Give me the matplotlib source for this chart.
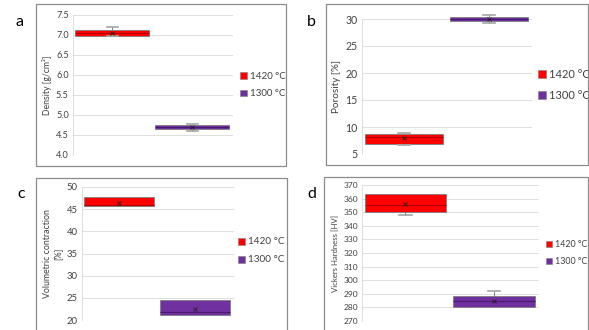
import matplotlib
matplotlib.use("Agg")
import matplotlib.pyplot as plt
from matplotlib.patches import Patch, Rectangle

plt.rcParams['font.family'] = ['Lato', 'DejaVu Sans']

# series names and colours
series = ['1420 °C', '1300 °C']
colors = ['#ff0000', '#7030a0']
median_colors = ['#b00000', '#4a1a70']

# box statistics per panel: [whislo, q1, med, q3, whishi, mean] for 1420 and 1300
density_1420 = [6.97, 6.98, 7.05, 7.12, 7.19, 7.06]
density_1300 = [4.59, 4.65, 4.70, 4.74, 4.78, 4.69]
porosity_1420 = [6.67, 6.85, 8.15, 8.76, 8.85, 7.9]
porosity_1300 = [29.26, 29.63, 30.0, 30.37, 30.67, 30.0]
contraction_1420 = [45.8, 45.8, 45.9, 47.7, 47.7, 46.5]
contraction_1300 = [21.1, 21.1, 21.8, 24.6, 24.6, 22.5]
hardness_1420 = [348.2, 349.9, 355.5, 363.4, 363.4, 356.0]
hardness_1300 = [280.1, 280.1, 284.6, 288.4, 292.3, 284.8]

panels = [
    dict(letter='a', data=[density_1420, density_1300], ylabel='Density [g/cm³]',
         ylim=(4.0, 7.5), ticks=[4.0, 4.5, 5.0, 5.5, 6.0, 6.5, 7.0, 7.5], fmt='{:.1f}',
         ax=(73, 15, 233, 155), frame=(36, 4, 286, 166), letter_pos=(15, 22),
         leg=(240, 85), fs=6.6, lfs=6.2),
    dict(letter='b', data=[porosity_1420, porosity_1300], ylabel='Porosity [%]',
         ylim=(5, 30), ticks=[5, 10, 15, 20, 25, 30], fmt='{:.0f}',
         ax=(362, 19, 532, 154), frame=(326, 4, 588, 165), letter_pos=(307, 22),
         leg=(538, 85), fs=7.6, lfs=7.2),
    dict(letter='c', data=[contraction_1420, contraction_1300],
         ylabel='Volumetric contraction\n[%]',
         ylim=(20, 50), ticks=[20, 25, 30, 35, 40, 45, 50], fmt='{:.0f}',
         ax=(82, 187, 234, 320), frame=(36, 178, 287, 332), letter_pos=(17, 194),
         leg=(238, 251), fs=6.8, lfs=6.3),
    dict(letter='d', data=[hardness_1420, hardness_1300], ylabel='Vickers Hardness [HV]',
         ylim=(270, 370), ticks=list(range(270, 371, 10)), fmt='{:.0f}',
         ax=(362, 185, 539, 321), frame=(324, 177, 588, 332), letter_pos=(307, 194),
         leg=(546, 253), fs=6.0, lfs=5.6),
]

W, H = 589, 330
fig = plt.figure(figsize=(W / 100, H / 100), dpi=100)

for p in panels:
    x0, y0, x1, y1 = p['ax']
    ax = fig.add_axes([x0 / W, 1 - y1 / H, (x1 - x0) / W, (y1 - y0) / H])

    # panel frame
    fx0, fy0, fx1, fy1 = p['frame']
    fig.patches.append(Rectangle((fx0 / W, 1 - fy1 / H), (fx1 - fx0) / W, (fy1 - fy0) / H,
                                 transform=fig.transFigure, fill=False,
                                 edgecolor='#8c8c8c', lw=0.9))
    fig.text(p['letter_pos'][0] / W, 1 - p['letter_pos'][1] / H, p['letter'],
             fontsize=11.5, ha='left', va='center')

    for i, (name, d) in enumerate(zip(series, p['data'])):
        st = dict(label=name, whislo=d[0], q1=d[1], med=d[2], q3=d[3],
                  whishi=d[4], mean=d[5])
        out = ax.bxp([st], positions=[0.245 + 0.5 * i], widths=0.46, capwidths=0.07,
                     patch_artist=True, showmeans=True, showfliers=False,
                     boxprops=dict(facecolor=colors[i], edgecolor='#7f7f7f', lw=0.6),
                     medianprops=dict(color=median_colors[i], lw=0.8),
                     whiskerprops=dict(color='#7f7f7f', lw=0.7),
                     capprops=dict(color='#a6a6a6', lw=1.2),
                     meanprops=dict(marker='x', markeredgecolor='#202020', markersize=3,
                                    markeredgewidth=0.6),
                     manage_ticks=False)
        # no cap where the whisker has zero length
        if d[0] >= d[1]:
            out['caps'][0].set_visible(False)
        if d[4] <= d[3]:
            out['caps'][1].set_visible(False)
    for art in ax.get_children():
        try:
            art.set_clip_on(False)
        except Exception:
            pass

    ax.set_xlim(0, 1)
    ax.set_ylim(*p['ylim'])
    ax.set_yticks(p['ticks'])
    ax.set_yticklabels([p['fmt'].format(t) for t in p['ticks']], fontsize=p['fs'],
                       color='#404040')
    ax.set_xticks([])
    ax.tick_params(axis='y', length=0, pad=3)
    ax.grid(axis='y', color='#d9d9d9', lw=0.6)
    ax.set_axisbelow(True)
    for s in ['top', 'right', 'bottom']:
        ax.spines[s].set_visible(False)
    ax.spines['left'].set_color('#d9d9d9')
    ax.spines['left'].set_linewidth(0.6)
    ax.set_ylabel(p['ylabel'], fontsize=p['lfs'], color='#404040', labelpad=3,
                  linespacing=1.2)

    handles = [Patch(facecolor=c, edgecolor='#7f7f7f', lw=0.4) for c in colors]
    lx, ly = p['leg']
    ax.legend(handles, series, loc='center left', bbox_to_anchor=(lx / W, 1 - ly / H),
              bbox_transform=fig.transFigure, frameon=False, fontsize=p['fs'] + 0.4,
              handlelength=0.7, handleheight=0.7, handletextpad=0.3,
              labelspacing=0.9, borderpad=0, borderaxespad=0, labelcolor='#404040')

fig.savefig('out.png', dpi=100)
